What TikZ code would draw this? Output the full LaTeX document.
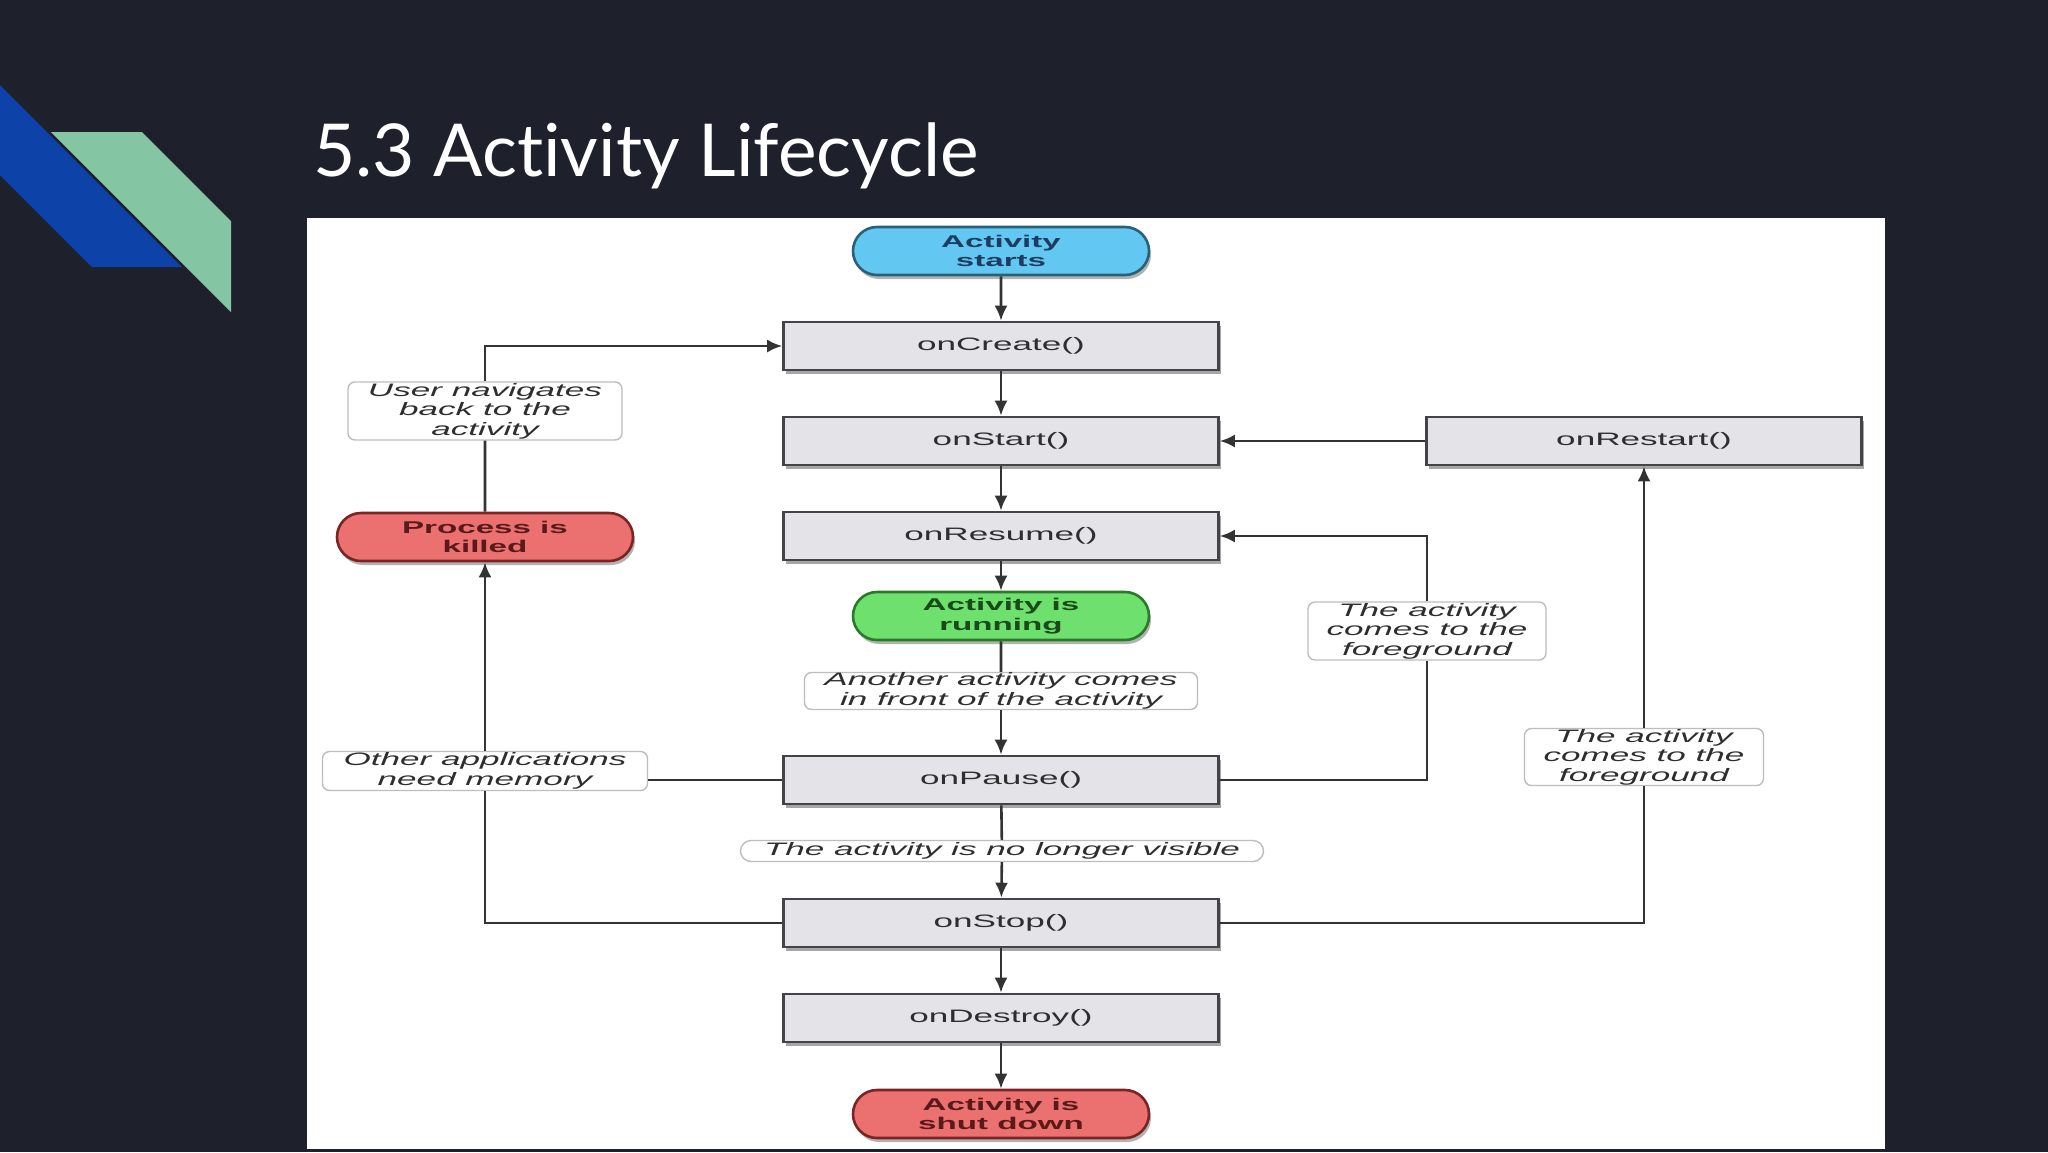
\documentclass[tikz,border=0pt]{standalone}
\usepackage{fontspec}
\usepackage{graphicx}
\setmainfont{Liberation Sans}
\newfontfamily\titlefont{Lato}[Ligatures={NoCommon,NoRare,NoContextual}]
\usetikzlibrary{arrows.meta,shapes.misc,shadows}
\definecolor{bg}{HTML}{1E202C}
\definecolor{decoblue}{HTML}{0D42A8}
\definecolor{decogreen}{HTML}{84C6A4}
\definecolor{boxfill}{HTML}{E4E4E8}
\definecolor{boxline}{HTML}{444448}
\definecolor{boxtext}{HTML}{2E2E2E}
\definecolor{notegray}{HTML}{BDBDBD}
\definecolor{notetext}{HTML}{2E2E2E}
\definecolor{linec}{HTML}{333333}
\definecolor{pblue}{HTML}{62C8F2}
\definecolor{pblueline}{HTML}{2A6078}
\definecolor{pbluetext}{HTML}{1E3C60}
\definecolor{pgreen}{HTML}{6EE06E}
\definecolor{pgreenline}{HTML}{2A7A2A}
\definecolor{pgreentext}{HTML}{1A4A1A}
\definecolor{pred}{HTML}{EB7070}
\definecolor{predline}{HTML}{7A2424}
\definecolor{predtext}{HTML}{5A1A1A}
\newcommand{\wx}[1]{\scalebox{1.95}[1]{#1}}
\tikzset{
  method/.style={rectangle, draw=boxline, line width=2.6pt, fill=boxfill,
    minimum width=435pt, minimum height=48pt, inner sep=0pt,
    font=\fontsize{18}{19.5}\selectfont, text=boxtext,
    drop shadow={shadow xshift=2pt, shadow yshift=-4pt, opacity=0.35, fill=black}},
  pill/.style={rounded rectangle, line width=2.6pt, minimum width=296pt,
    minimum height=48pt, inner sep=0pt, align=center,
    font=\fontsize{17}{19.5}\selectfont\bfseries,
    drop shadow={shadow xshift=2pt, shadow yshift=-4pt, opacity=0.3, fill=black}},
  note/.style={rectangle, rounded corners=7pt, draw=notegray, line width=1.4pt,
    fill=white, inner sep=0pt, align=center,
    font=\fontsize{18}{19.5}\selectfont\itshape, text=notetext},
  notepill/.style={rounded rectangle, draw=notegray, line width=1.4pt,
    fill=white, inner sep=0pt, align=center,
    font=\fontsize{18}{19.5}\selectfont\itshape, text=notetext},
  conn/.style={draw=linec, line width=2.6pt},
  arr/.style={conn, -{Latex[length=15pt,width=13pt]}},
}
\begin{document}
\begin{tikzpicture}[x=1pt,y=-1pt]
\useasboundingbox (0,0) rectangle (2048,1152);
\fill[bg] (0,0) rectangle (2048,1152);
% decorations
\fill[decoblue] (0,85) -- (182,267) -- (92,267) -- (0,175) -- cycle;
\fill[decogreen] (51,132) -- (142,132) -- (231,221) -- (231,312) -- cycle;
% title
\node[anchor=base west, inner sep=0pt, text=white, font=\titlefont\fontsize{73}{80}\selectfont] (title) at (313,176) {5.3 Activity Lifecycle};
% panel
\fill[white] (307,218) rectangle (1885,1149);
% main column
\node[pill, fill=pblue, draw=pblueline, text=pbluetext] (begin) at (1001,251) {\wx{Activity}\\\wx{starts}};
\node[method] (create) at (1001,346) {\wx{onCreate()}};
\node[method] (startm) at (1001,441) {\wx{onStart()}};
\node[method] (resume) at (1001,536) {\wx{onResume()}};
\node[pill, fill=pgreen, draw=pgreenline, text=pgreentext] (running) at (1001,616) {\wx{Activity is}\\\wx{running}};
\node[note, minimum width=393pt, minimum height=37pt] (another) at (1001,691) {\wx{Another activity comes}\\\wx{in front of the activity}};
\node[method] (pause) at (1001,780) {\wx{onPause()}};
\node[notepill, minimum width=523pt, minimum height=21pt] (invisible) at (1002,851) {\wx{The activity is no longer visible}};
\node[method] (stopm) at (1001,923) {\wx{onStop()}};
\node[method] (destroy) at (1001,1018) {\wx{onDestroy()}};
\node[pill, fill=pred, draw=predline, text=predtext] (shut) at (1001,1114) {\wx{Activity is}\\\wx{shut down}};
% left column
\node[note, minimum width=274pt, minimum height=58pt] (usernav) at (485,411) {\wx{User navigates}\\\wx{back to the}\\\wx{activity}};
\node[pill, fill=pred, draw=predline, text=predtext] (killed) at (485,537) {\wx{Process is}\\\wx{killed}};
\node[note, minimum width=325pt, minimum height=39pt] (memory) at (485,771) {\wx{Other applications}\\\wx{need memory}};
% right column
\node[method] (restart) at (1644,441) {\wx{onRestart()}};
\node[note, minimum width=238pt, minimum height=58pt] (fgone) at (1427,631) {\wx{The activity}\\\wx{comes to the}\\\wx{foreground}};
\node[note, minimum width=239pt, minimum height=57pt] (fgtwo) at (1644,757) {\wx{The activity}\\\wx{comes to the}\\\wx{foreground}};
% connectors main
\draw[arr] (begin) -- (create);
\draw[arr] (create) -- (startm);
\draw[arr] (startm) -- (resume);
\draw[arr] (resume) -- (running);
\draw[conn] (running) -- (another);
\draw[arr] (another) -- (pause);
\draw[conn] (pause) -- (invisible);
\draw[arr] (invisible) -- (stopm);
\draw[arr] (stopm) -- (destroy);
\draw[arr] (destroy) -- (shut);
% connectors left
\draw[arr] (usernav.north) |- (create.west);
\draw[conn] (killed) -- (usernav);
\draw[arr] (memory) -- (killed);
\draw[conn] (pause.west) -- (pause.west -| memory.east);
\draw[conn] (stopm.west) -| (memory.south);
% connectors right
\draw[arr] (restart.west) -- (startm.east);
\draw[conn] (pause.east) -| (fgone.south);
\draw[arr] (fgone.north) |- (resume.east);
\draw[conn] (stopm.east) -| (fgtwo.south);
\draw[arr] (fgtwo) -- (restart);
\end{tikzpicture}
\end{document}
